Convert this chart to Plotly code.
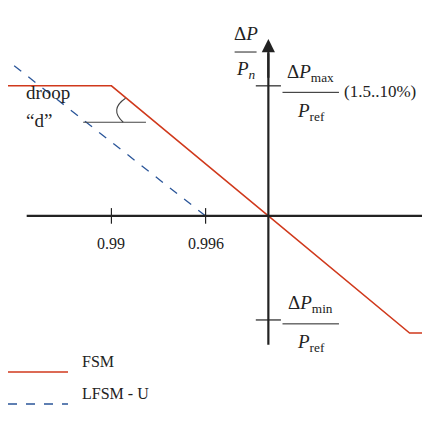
import plotly.graph_objects as go

# data (x: f/fn, y: dP/Pmax normalised)
fsm_x = [0.9829, 0.99, 1.0, 1.0090, 1.0103]
fsm_y = [1.0, 1.0, 0.0, -0.90, -0.90]
lfsm_x = [0.9829, 0.996]
lfsm_y = [1.24, 0.0]
x_ticks = [0.99, 0.996]
x_tick_labels = ["0.99", "0.996"]
y_max, y_min = 1.0, -0.80

OFF = 8  # page offset
X0, X1 = 0.9829 + OFF / 15700, 1.0103 + OFF / 15700
Y0, Y1 = -1.646 - OFF / 130, 1.66 - OFF / 130
F = "Liberation Serif"
red = "#d0391c"; blue = "#2a5599"; blk = "#222"

fig = go.Figure()
fig.add_trace(go.Scatter(x=fsm_x, y=fsm_y, mode="lines", line=dict(color=red, width=1.5), hoverinfo="skip"))
fig.add_trace(go.Scatter(x=lfsm_x, y=lfsm_y, mode="lines", line=dict(color=blue, width=1.3, dash="dash"), hoverinfo="skip"))

def py(s):  # screen pixel -> paper y
    return 1 - (s - OFF) / 430
def px(s):
    return (s - OFF) / 430

shapes = []
shapes.append(dict(type="line", x0=0.9846, x1=1.0110, y0=0, y1=0, line=dict(color=blk, width=2.2)))
shapes.append(dict(type="line", x0=1.0, x1=1.0, y0=-0.99, y1=1.25, line=dict(color=blk, width=2.2)))
for t in x_ticks:
    shapes.append(dict(type="line", x0=t, x1=t, y0=-0.06, y1=0.06, line=dict(color=blk, width=1.2)))
for v in [y_max, y_min]:
    shapes.append(dict(type="line", x0=0.9992, x1=1.0008, y0=v, y1=v, line=dict(color=blk, width=1.2)))
shapes.append(dict(type="line", x0=0.9882, x1=0.9922, y0=0.72, y1=0.72, line=dict(color="#444", width=1.2)))
shapes.append(dict(type="path", path="M 0.99090,0.905 Q 0.98985,0.82 0.99075,0.72", line=dict(color="#444", width=1.1)))
shapes.append(dict(type="line", x0=0.99785, x1=0.99925, y0=1.26, y1=1.26, line=dict(color=blk, width=1)))
for yb in [0.95, -0.83]:
    shapes.append(dict(type="line", x0=1.0009, x1=1.0045, y0=yb, y1=yb, line=dict(color=blk, width=1)))
shapes.append(dict(type="line", xref="paper", yref="paper", x0=0.0, x1=px(68), y0=py(372), y1=py(372), line=dict(color=red, width=1.5)))
shapes.append(dict(type="line", xref="paper", yref="paper", x0=0.0, x1=px(68), y0=py(404), y1=py(404), line=dict(color=blue, width=1.3, dash="dash")))

ann = []
def A(x, y, t, size=19, xa="left"):
    ann.append(dict(x=x, y=y, text=t, showarrow=False, xanchor=xa, yanchor="middle",
                    font=dict(family=F, size=size, color=blk)))

ann.append(dict(x=1.0, y=1.36, ax=1.0, ay=1.05, axref="x", ayref="y", text="", showarrow=True,
                arrowhead=2, arrowsize=1.2, arrowwidth=2.2, arrowcolor=blk))
for t, l in zip(x_ticks, x_tick_labels):
    A(t, -0.21, l, size=16, xa="center")
A(0.99855, 1.40, "Δ<i>P</i>", xa="center")
A(0.99855, 1.12, "<i>P<sub>n</sub></i>", xa="center")
A(1.0027, 1.10, "Δ<i>P</i><sub>max</sub>", xa="center")
A(1.0027, 0.80, "<i>P</i><sub>ref</sub>", xa="center")
A(1.0047, 0.96, "(1.5..10%)", size=17)
A(1.0027, -0.68, "Δ<i>P</i><sub>min</sub>", xa="center")
A(1.0027, -0.98, "<i>P</i><sub>ref</sub>", xa="center")
A(0.9844, 0.95, "droop")
A(0.9844, 0.73, "“d”")
A(0.98325, 0.88, ")")
A(1.0110, 0.1, "<i>f</i>", xa="right")
for yy, t in [(372, "FSM"), (404, "LFSM - U")]:
    ann.append(dict(xref="paper", yref="paper", x=px(80), y=py(yy), text=t, showarrow=False, xanchor="left",
                    font=dict(family=F, size=16, color=blk)))

fig.update_layout(width=430, height=430, margin=dict(l=0, r=0, t=0, b=0), showlegend=False,
                  plot_bgcolor="white", paper_bgcolor="white", shapes=shapes, annotations=ann,
                  xaxis=dict(range=[X0, X1], visible=False), yaxis=dict(range=[Y0, Y1], visible=False))
fig.write_html("out.html")
